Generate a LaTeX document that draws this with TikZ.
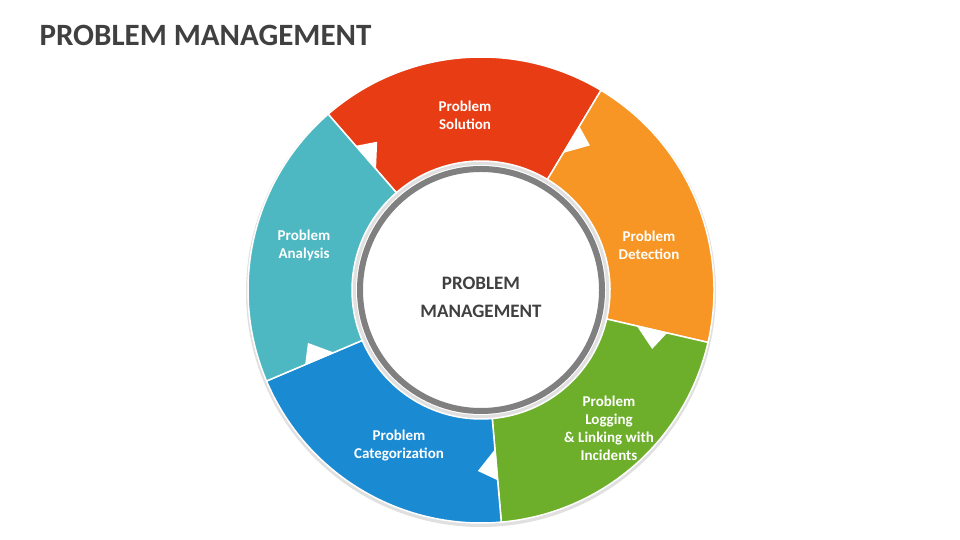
\documentclass[tikz,border=0pt]{standalone}
\usepackage{fontspec}
\setmainfont{Carlito}
\begin{document}
\begin{tikzpicture}[x=1pt,y=1pt,
  lbl/.style={text=white,font=\bfseries\fontsize{15}{18}\selectfont,align=center},
  sep/.style={draw=white,line width=1.5pt}]
\useasboundingbox (0,0) rectangle (960,540);
\fill[white] (0,0) rectangle (960,540);
\node[anchor=west,text=black!75,font=\bfseries\fontsize{31}{36}\selectfont] (title) at (36,505) {PROBLEM MANAGEMENT};
\begin{scope}[shift={(481,250)}]
\def\Ro{233}\def\Ri{129}
\fill[black!12] (0,-2) circle (235);
\foreach \a/\b/\c in {59/131/red,-13/59/orange,-85/-13/green,203/275/blue,131/203/teal}{
  \definecolor{red}{HTML}{E83C15}\definecolor{orange}{HTML}{F79624}
  \definecolor{green}{HTML}{6DAF2B}\definecolor{blue}{HTML}{1A8AD3}\definecolor{teal}{HTML}{4DB8C1}
  \path[fill=\c,sep] (\a:\Ri) -- (\a:\Ro) arc[start angle=\a,end angle=\b,radius=\Ro] -- (\b:\Ri) arc[start angle=\b,end angle=\a,radius=\Ri] -- cycle;
}
\foreach \a in {59,-13,-85,203,131}{
  \fill[white] (\a:160) -- (\a:191) -- (\a-6:181) -- cycle;
}
\fill[white] (0,0) circle (125);
\draw[black!50,line width=6pt] (0,0) circle (121);
\node[text=black!75,font=\bfseries\fontsize{19}{28}\selectfont,align=center] (center) at (0,-7) {PROBLEM\\MANAGEMENT};
\end{scope}
\node[lbl] (sol) at (465,425) {Problem\\Solution};
\node[lbl] (det) at (649,295) {Problem\\Detection};
\node[lbl] (log) at (609,112) {Problem\\Logging\\\& Linking with\\Incidents};
\node[lbl] (cat) at (399,94) {Problem\\Categorization};
\node[lbl] (ana) at (304,295) {Problem\\Analysis};
\end{tikzpicture}
\end{document}
